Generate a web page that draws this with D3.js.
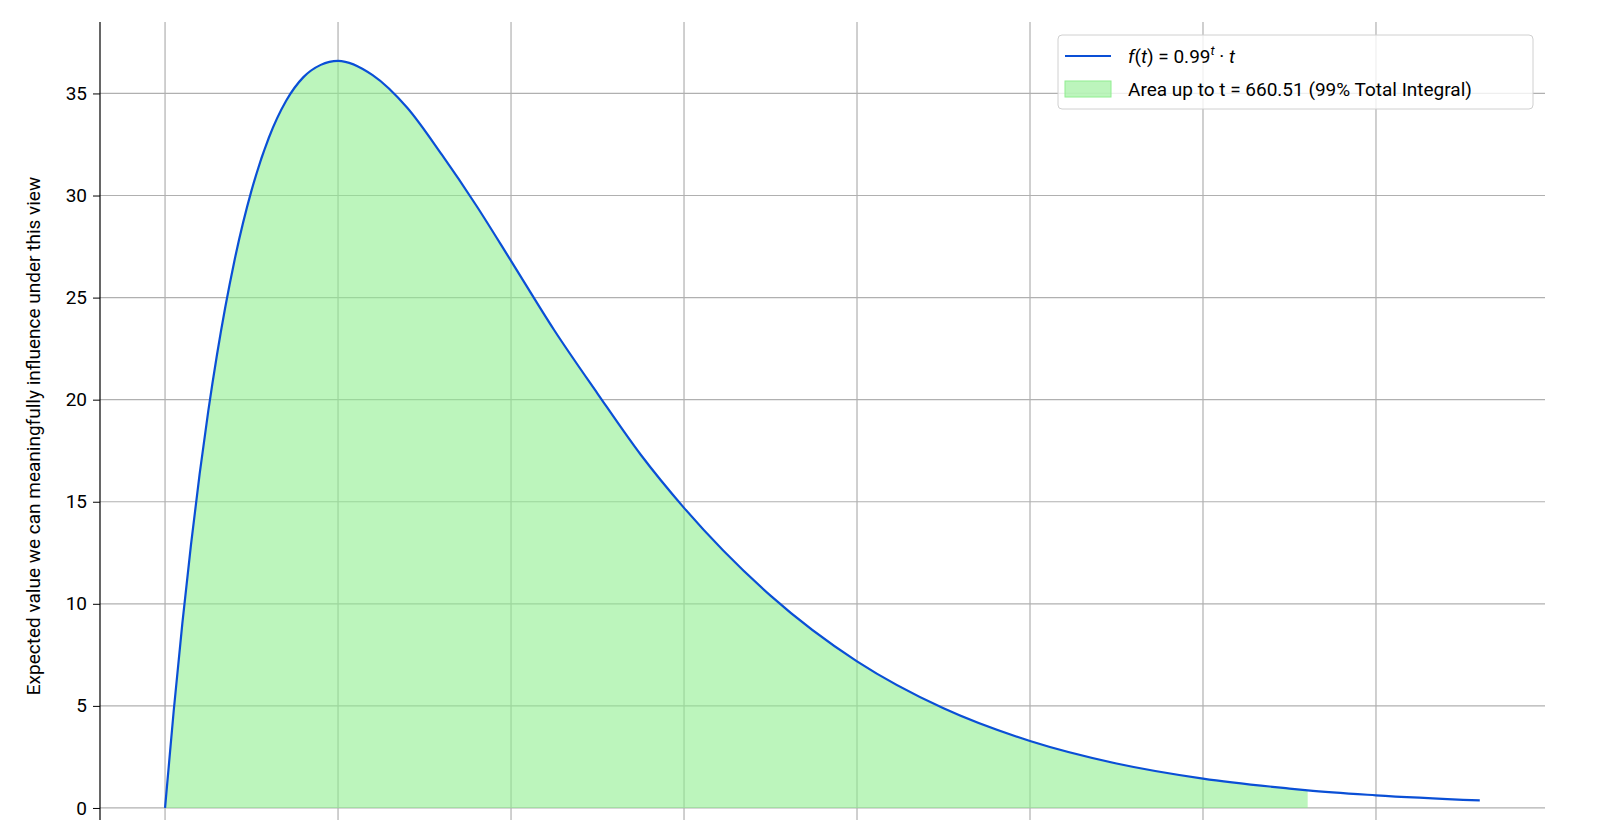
<!DOCTYPE html>
<html><head><meta charset="utf-8">
<script src="https://cdn.jsdelivr.net/npm/d3@7"></script>
<style>body{margin:0;background:#fff;font-family:Roboto,"Noto Sans",sans-serif;}</style>
</head><body><svg id="c" width="1600" height="837"></svg>
<script>
// values (t, expected value)
var tValues = [0, 5, 10, 15, 20, 25, 30, 40, 50, 60, 70, 80, 90, 100, 120, 140, 160, 180, 200, 225, 250, 275, 300, 350, 400, 450, 500, 550, 600, 650, 660.51, 700, 760];
var fValues = [0, 4.75, 9.04, 12.9, 16.36, 19.45, 22.19, 26.76, 30.25, 32.83, 34.64, 35.8, 36.4, 36.6, 35.9, 34.3, 32.0, 29.5, 26.8, 23.4, 20.3, 17.3, 14.7, 10.4, 7.18, 4.88, 3.28, 2.18, 1.44, 0.95, 0.86, 0.62, 0.37];
var areaLimit = 660.51;
var xGrid = [0, 100, 200, 300, 400, 500, 600, 700];
var yTicks = [0, 5, 10, 15, 20, 25, 30, 35];

var svg = d3.select("#c");
var mLeft = 100, mRight = 1545, mTop = 22, mBottom = 820;

var x = d3.scaleLinear().domain([-37.6, 797.7]).range([mLeft, mRight]);
var y = d3.scaleLinear().domain([-0.59, 38.5]).range([mBottom, mTop]);

var pts = tValues.map(function(t, i) { return {t: t, v: fValues[i]}; });

// grid
svg.append("g").selectAll("line").data(xGrid).enter().append("line")
    .attr("x1", function(d) { return x(d); }).attr("x2", function(d) { return x(d); })
    .attr("y1", mTop).attr("y2", mBottom)
    .attr("stroke", "#b0b0b0").attr("stroke-width", 1.2);
svg.append("g").selectAll("line").data(yTicks).enter().append("line")
    .attr("x1", mLeft).attr("x2", mRight)
    .attr("y1", function(d) { return y(d); }).attr("y2", function(d) { return y(d); })
    .attr("stroke", "#b0b0b0").attr("stroke-width", 1.2);

// filled area
svg.append("path")
    .datum(pts.filter(function(d) { return d.t <= areaLimit; }))
    .attr("fill", "#90ee90").attr("fill-opacity", 0.6)
    .attr("d", d3.area().curve(d3.curveMonotoneX)
        .x(function(d) { return x(d.t); }).y0(y(0)).y1(function(d) { return y(d.v); }));

// curve
svg.append("path").datum(pts)
    .attr("fill", "none").attr("stroke", "#0a4fd6").attr("stroke-width", 2.2)
    .attr("d", d3.line().curve(d3.curveMonotoneX)
        .x(function(d) { return x(d.t); }).y(function(d) { return y(d.v); }));

// left axis
var yAxis = svg.append("g").attr("transform", "translate(" + mLeft + ",0)")
    .call(d3.axisLeft(y).tickValues(yTicks).tickSize(7).tickPadding(6));
yAxis.select(".domain").attr("d", "M0," + mTop + "V" + mBottom).attr("stroke", "#000").attr("stroke-width", 1.2);
yAxis.selectAll("text").attr("font-size", 19).attr("fill", "#000").attr("font-family", "Roboto");

svg.append("text")
    .attr("transform", "translate(40," + ((mTop + mBottom) / 2 + 15) + ") rotate(-90)")
    .attr("text-anchor", "middle").attr("font-size", 19)
    .text("Expected value we can meaningfully influence under this view");

// legend
var lg = svg.append("g").attr("transform", "translate(1058,35)");
lg.append("rect").attr("width", 475).attr("height", 74).attr("rx", 4)
    .attr("fill", "#fff").attr("fill-opacity", 0.8).attr("stroke", "#d0d0d0");
lg.append("line").attr("x1", 7).attr("x2", 53).attr("y1", 21).attr("y2", 21)
    .attr("stroke", "#0a4fd6").attr("stroke-width", 2.2);
var t1 = lg.append("text").attr("x", 70).attr("y", 28).attr("font-size", 19);
t1.append("tspan").attr("font-style", "italic").text("f");
t1.append("tspan").text("(");
t1.append("tspan").attr("font-style", "italic").text("t");
t1.append("tspan").text(") = 0.99");
t1.append("tspan").attr("font-style", "italic").attr("font-size", 13).attr("dy", -8).text("t");
t1.append("tspan").attr("dy", 8).text(" \u00b7 ");
t1.append("tspan").attr("font-style", "italic").text("t");
lg.append("rect").attr("x", 7).attr("y", 46).attr("width", 46).attr("height", 16)
    .attr("fill", "#90ee90").attr("fill-opacity", 0.6).attr("stroke", "#90ee90");
lg.append("text").attr("x", 70).attr("y", 61).attr("font-size", 19)
    .text("Area up to t = 660.51 (99% Total Integral)");
</script></body></html>
